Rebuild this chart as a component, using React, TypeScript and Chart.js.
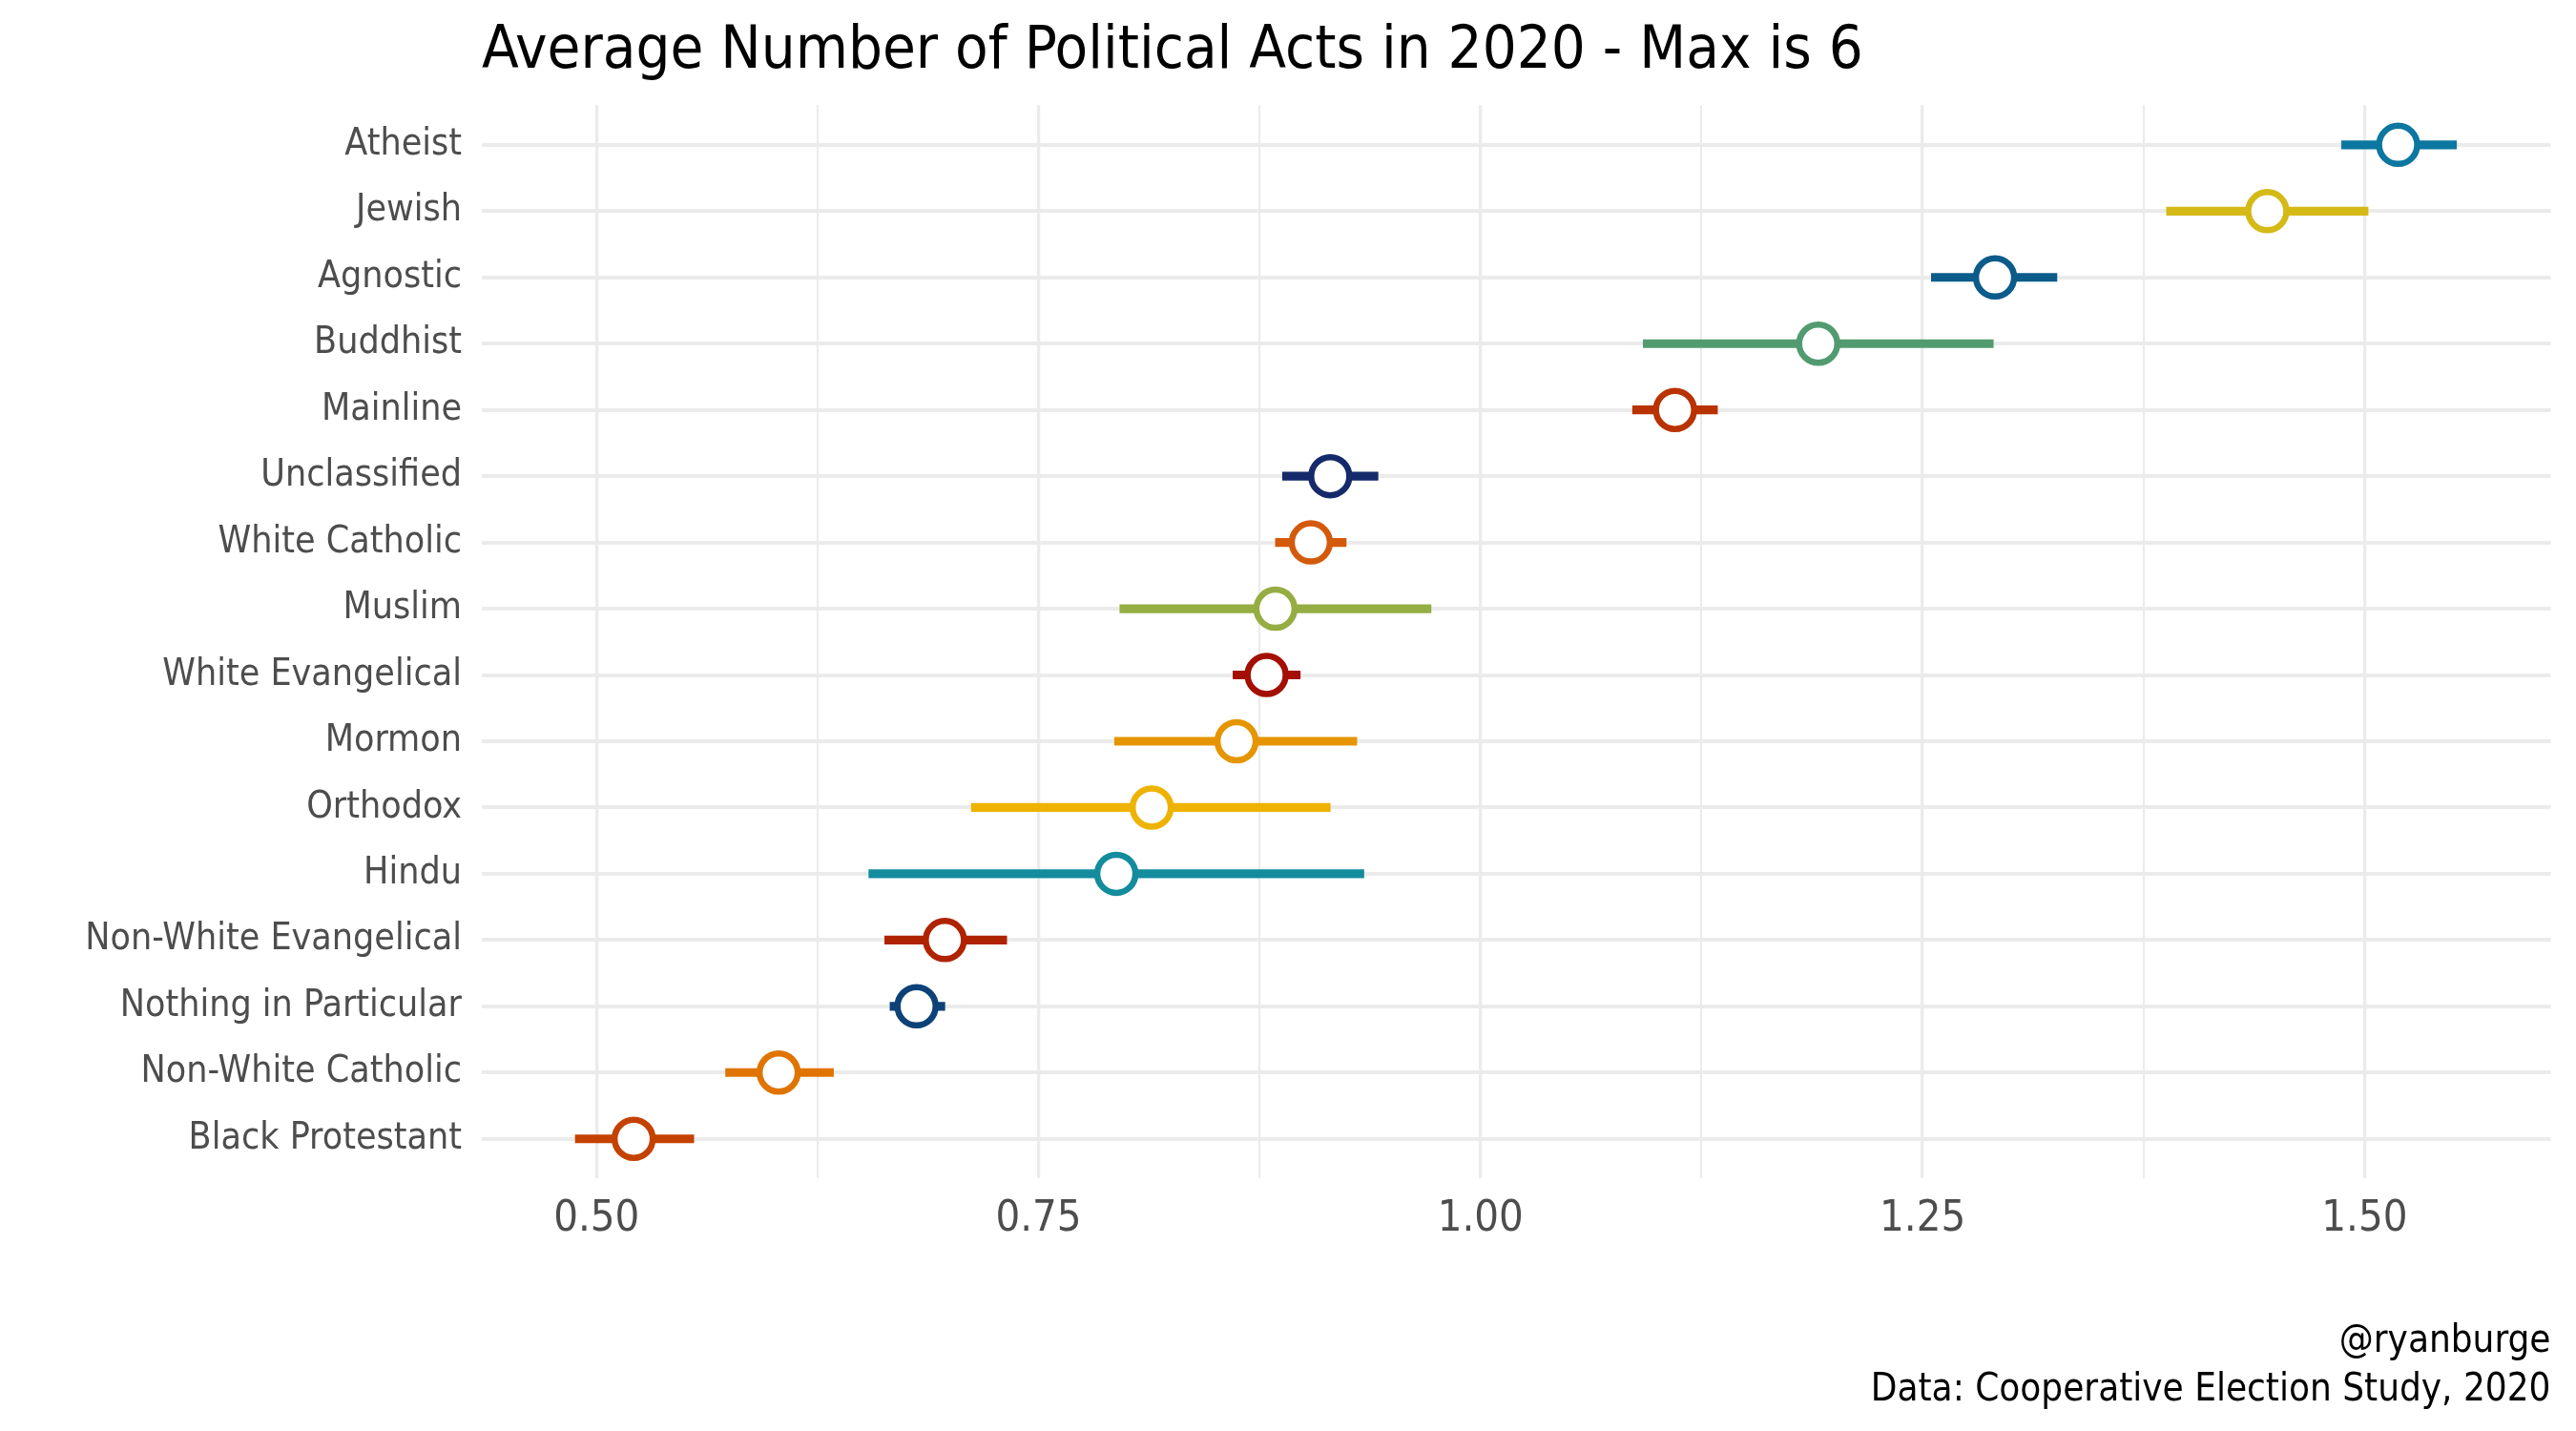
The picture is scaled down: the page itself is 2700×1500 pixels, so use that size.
import React, { useEffect, useRef } from "react";
import { Chart, registerables } from "chart.js";

Chart.register(...registerables);

const titleText = "Average Number of Political Acts in 2020 - Max is 6";
const captionLines = ["@ryanburge", "Data: Cooperative Election Study, 2020"];

const categories = [
  "Atheist",
  "Jewish",
  "Agnostic",
  "Buddhist",
  "Mainline",
  "Unclassified",
  "White Catholic",
  "Muslim",
  "White Evangelical",
  "Mormon",
  "Orthodox",
  "Hindu",
  "Non-White Evangelical",
  "Nothing in Particular",
  "Non-White Catholic",
  "Black Protestant",
];

const means = [1.519, 1.445, 1.291, 1.191, 1.11, 0.915, 0.904, 0.884, 0.879, 0.862, 0.814, 0.794, 0.697, 0.681, 0.603, 0.521];
const lower = [1.487, 1.388, 1.255, 1.092, 1.086, 0.888, 0.884, 0.796, 0.86, 0.793, 0.712, 0.654, 0.663, 0.666, 0.573, 0.488];
const upper = [1.552, 1.502, 1.326, 1.29, 1.134, 0.942, 0.924, 0.972, 0.898, 0.93, 0.915, 0.934, 0.732, 0.697, 0.634, 0.555];

const colors = [
  "#0C77A0",
  "#D4B917",
  "#0B5B8B",
  "#529B70",
  "#B83300",
  "#152A6B",
  "#D45A0B",
  "#95AD43",
  "#A30F02",
  "#E59500",
  "#EEB200",
  "#138C9D",
  "#AF2300",
  "#0D4278",
  "#E07400",
  "#C44200",
];

const xTickValues = [0.5, 0.625, 0.75, 0.875, 1.0, 1.125, 1.25, 1.375, 1.5];
const xMajorTicks = [0.5, 0.75, 1.0, 1.25, 1.5];
const xMin = 0.4351;
const xMax = 1.6053;

const FONT = "'Liberation Sans Narrow', 'DejaVu Sans Condensed', 'Roboto', sans-serif";

export default function App() {
  const canvasRef = useRef<HTMLCanvasElement | null>(null);

  useEffect(() => {
    const canvas = canvasRef.current;
    if (!canvas) return;
    const isMajor = (v: number) => xMajorTicks.some((m) => Math.abs(m - v) < 1e-6);
    const chart = new Chart(canvas, {
      type: "bar",
      data: {
        datasets: [
          {
            type: "scatter",
            order: 0,
            data: categories.map((_, i) => ({ x: means[i], y: i })),
            pointRadius: 20,
            pointHoverRadius: 20,
            pointBorderWidth: 6.5,
            pointBackgroundColor: "#ffffff",
            pointBorderColor: colors,
            showLine: false,
          } as any,
          {
            type: "bar",
            order: 1,
            indexAxis: "y",
            data: categories.map((_, i) => ({ y: i, x: [lower[i], upper[i]] })),
            backgroundColor: colors,
            borderWidth: 0,
            barThickness: 8.5,
          } as any,
        ],
      },
      options: {
        animation: false,
        responsive: true,
        maintainAspectRatio: false,
        layout: { padding: { left: 0, right: 23, top: 0, bottom: 0 } },
        plugins: {
          legend: { display: false },
          tooltip: { enabled: false },
          title: {
            display: true,
            text: titleText,
            align: "start",
            fullSize: false,
            color: "#000000",
            font: { family: FONT, size: 63, weight: "normal", lineHeight: 1.2 },
            padding: { top: 17, bottom: 17.6 },
          },
          subtitle: {
            display: true,
            text: captionLines,
            position: "bottom",
            align: "end",
            fullSize: false,
            color: "#000000",
            font: { family: FONT, size: 40, weight: "normal", lineHeight: 1.27 },
            padding: { top: 0, bottom: 17 },
          },
        },
        scales: {
          x: {
            type: "linear",
            offset: false,
            min: xMin,
            max: xMax,
            afterBuildTicks: (scale: any) => {
              scale.ticks = xTickValues.map((v) => ({ value: v }));
            },
            afterFit: (scale: any) => {
              scale.height = 146;
            },
            ticks: {
              autoSkip: false,
              maxRotation: 0,
              padding: 16,
              color: "#4d4d4d",
              font: { family: FONT, size: 45 },
              callback: (v: any) => (isMajor(Number(v)) ? Number(v).toFixed(2) : ""),
            },
            grid: {
              offset: false,
              drawTicks: false,
              color: "#ebebeb",
              lineWidth: (ctx: any) => (ctx.tick && isMajor(ctx.tick.value) ? 3.3 : 2),
            },
            border: { display: false },
          },
          y: {
            type: "linear",
            offset: false,
            reverse: true,
            min: -0.6,
            max: categories.length - 1 + 0.6,
            afterBuildTicks: (scale: any) => {
              scale.ticks = categories.map((_, i) => ({ value: i }));
            },
            afterFit: (scale: any) => {
              scale.width = 505;
            },
            ticks: {
              autoSkip: false,
              padding: 21,
              color: "#4d4d4d",
              font: { family: FONT, size: 39 },
              callback: (v: any) => categories[Number(v)] ?? "",
            },
            grid: {
              offset: false,
              drawTicks: false,
              color: "#ebebeb",
              lineWidth: 4,
            },
            border: { display: false },
          },
        },
      } as any,
    });
    return () => chart.destroy();
  }, []);

  return (
    <div style={{ position: "absolute", left: 0, top: 0, width: 2700, height: 1500, background: "#ffffff" }}>
      <canvas ref={canvasRef} />
    </div>
  );
}
